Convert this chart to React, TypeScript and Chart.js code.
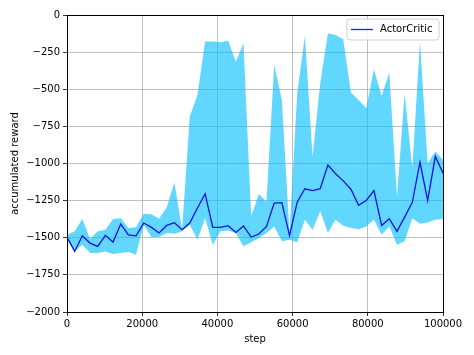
import React, { useEffect, useRef } from "react";
import { Chart, registerables } from "chart.js";

Chart.register(...registerables);

const N = 50;
const steps: number[] = Array.from({ length: N }, (_, i) => (i * 100000) / 49);

const meanReward: number[] = [
  -1495, -1592, -1487, -1536, -1558, -1484, -1529, -1408, -1480, -1487,
  -1401, -1430, -1468, -1417, -1399, -1446, -1401, -1300, -1204, -1430,
  -1430, -1419, -1464, -1421, -1495, -1475, -1424, -1267, -1264, -1486,
  -1260, -1170, -1182, -1170, -1011, -1069, -1117, -1173, -1282, -1249,
  -1182, -1417, -1372, -1457, -1361, -1262, -991, -1249, -953, -1065,
];

const upperReward: number[] = [
  -1480, -1457, -1374, -1509, -1457, -1446, -1374, -1368, -1435, -1430,
  -1338, -1341, -1372, -1294, -1128, -1446, -684, -538, -179, -179,
  -184, -173, -314, -191, -1356, -1206, -1256, -336, -572, -1469,
  -527, -141, -953, -460, -123, -135, -164, -522, -572, -628,
  -365, -545, -388, -1222, -527, -1031, -179, -998, -919, -975,
];

const lowerReward: number[] = [
  -1513, -1592, -1547, -1603, -1603, -1592, -1610, -1603, -1596, -1614,
  -1412, -1495, -1495, -1468, -1473, -1457, -1412, -1513, -1368, -1547,
  -1457, -1451, -1468, -1558, -1531, -1502, -1468, -1424, -1524, -1513,
  -1531, -1379, -1446, -1320, -1468, -1379, -1419, -1435, -1442, -1424,
  -1379, -1480, -1424, -1547, -1524, -1368, -1406, -1397, -1379, -1374,
];

const seriesLabel = "ActorCritic";
const xTickValues: number[] = [0, 20000, 40000, 60000, 80000, 100000];
const yTickValues: number[] = [-2000, -1750, -1500, -1250, -1000, -750, -500, -250, 0];

const FONT = "'DejaVu Sans', sans-serif";
const LINE_COLOR = "#1212dc";
const FILL_COLOR = "rgba(0, 191, 255, 0.62)";

const fmt = (v: number) => (v < 0 ? "\u2212" + Math.abs(v) : String(v));

const framePlugin = {
  id: "frame",
  afterDraw(chart: any) {
    const { ctx, chartArea: a } = chart;
    ctx.save();
    ctx.strokeStyle = "#000";
    ctx.lineWidth = 1;
    ctx.strokeRect(Math.round(a.left) + 0.5, Math.round(a.top) + 0.5, Math.round(a.right - a.left), Math.round(a.bottom - a.top));
    // legend
    const bx = 347, by = 19, bw = 92, bh = 21, r = 3;
    ctx.fillStyle = "rgba(255,255,255,0.85)";
    ctx.strokeStyle = "#d0d0d0";
    ctx.beginPath();
    ctx.moveTo(bx + r, by);
    ctx.lineTo(bx + bw - r, by);
    ctx.quadraticCurveTo(bx + bw, by, bx + bw, by + r);
    ctx.lineTo(bx + bw, by + bh - r);
    ctx.quadraticCurveTo(bx + bw, by + bh, bx + bw - r, by + bh);
    ctx.lineTo(bx + r, by + bh);
    ctx.quadraticCurveTo(bx, by + bh, bx, by + bh - r);
    ctx.lineTo(bx, by + r);
    ctx.quadraticCurveTo(bx, by, bx + r, by);
    ctx.closePath();
    ctx.fill();
    ctx.stroke();
    ctx.strokeStyle = "#2020ff";
    ctx.lineWidth = 1.3;
    ctx.beginPath();
    ctx.moveTo(351, by + 10.5);
    ctx.lineTo(373, by + 10.5);
    ctx.stroke();
    ctx.fillStyle = "#000";
    ctx.font = "10px " + FONT;
    ctx.textBaseline = "middle";
    ctx.textAlign = "left";
    ctx.fillText(seriesLabel, 380, by + 10.5);
    ctx.restore();
  },
};

export default function App() {
  const ref = useRef<HTMLCanvasElement | null>(null);
  useEffect(() => {
    document.body.style.margin = "0";
    const canvas = ref.current!;
    const chart = new Chart(canvas, {
      type: "line",
      data: {
        labels: steps,
        datasets: [
          {
            label: "upper",
            data: steps.map((x, i) => ({ x, y: upperReward[i] })),
            borderWidth: 0,
            borderColor: "rgba(0,0,0,0)",
            backgroundColor: FILL_COLOR,
            pointRadius: 0,
            fill: "+1",
            tension: 0,
            order: 2,
          },
          {
            label: "lower",
            data: steps.map((x, i) => ({ x, y: lowerReward[i] })),
            borderWidth: 0,
            borderColor: "rgba(0,0,0,0)",
            backgroundColor: FILL_COLOR,
            pointRadius: 0,
            fill: false,
            tension: 0,
            order: 2,
          },
          {
            label: seriesLabel,
            data: steps.map((x, i) => ({ x, y: meanReward[i] })),
            borderWidth: 1.3,
            borderColor: LINE_COLOR,
            pointRadius: 0,
            fill: false,
            tension: 0,
            order: 1,
          },
        ],
      },
      options: {
        responsive: false,
        animation: false,
        layout: { padding: { top: 15, right: 31, left: 0, bottom: 0 } },
        plugins: {
          legend: { display: false },
          tooltip: { enabled: false },
        },
        scales: {
          x: {
            type: "linear",
            min: 0,
            max: 100000,
            afterBuildTicks: (s: any) => {
              s.ticks = xTickValues.map((v) => ({ value: v }));
            },
            afterFit: (s: any) => {
              s.height = 43;
            },
            ticks: {
              color: "#000",
              font: { family: FONT, size: 10 },
              padding: 2,
              maxRotation: 0,
              callback: (v: any) => fmt(Number(v)),
            },
            grid: { color: "#b0b0b0", tickColor: "#000", tickLength: 4, lineWidth: 0.8 },
            border: { color: "#000" },
            title: {
              display: true,
              text: "step",
              color: "#000",
              font: { family: FONT, size: 10 },
              padding: { top: 0, bottom: 10 },
            },
          },
          y: {
            type: "linear",
            min: -2000,
            max: 0,
            afterBuildTicks: (s: any) => {
              s.ticks = yTickValues.map((v) => ({ value: v }));
            },
            afterFit: (s: any) => {
              s.width = 67;
            },
            ticks: {
              color: "#000",
              font: { family: FONT, size: 10 },
              padding: 3,
              callback: (v: any) => fmt(Number(v)),
            },
            grid: { color: "#b0b0b0", tickColor: "#000", tickLength: 4, lineWidth: 0.8 },
            border: { color: "#000" },
            title: {
              display: true,
              text: "accumulated reward",
              color: "#000",
              font: { family: FONT, size: 10 },
              padding: { top: 9, bottom: 0 },
            },
          },
        },
      },
      plugins: [framePlugin],
    } as any);
    return () => chart.destroy();
  }, []);
  return <canvas ref={ref} width={474} height={355} style={{ display: "block" }} />;
}
